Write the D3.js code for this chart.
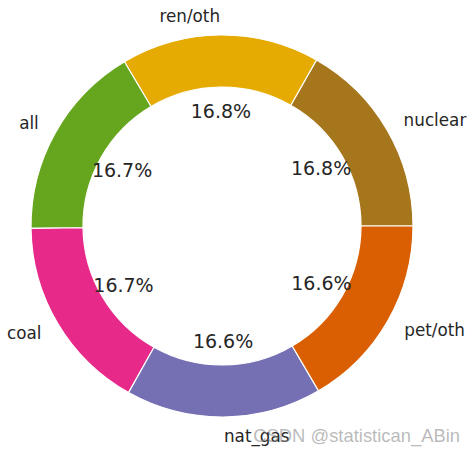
<!DOCTYPE html>
<html>
<head>
<meta charset="utf-8">
<script src="https://cdn.jsdelivr.net/npm/d3@7"></script>
<style>
  body { margin: 0; background: #fff; }
  svg { display: block; }
</style>
</head>
<body>
<div id="chart"></div>
<script>
// sources, in drawing order (counter-clockwise from 3 o'clock)
var labels = ["nuclear", "ren/oth", "all", "coal", "nat_gas", "pet/oth"];
var shares = [16.8, 16.8, 16.7, 16.7, 16.6, 16.6];
var colors = ["#a6761d", "#e6ab02", "#66a61e", "#e7298a", "#7570b3", "#d95f02"];

var width = 475, height = 453;
var cx = 222, cy = 226, outer = 191, inner = 139;

var svg = d3.select("#chart").append("svg")
  .attr("width", width)
  .attr("height", height);

var g = svg.append("g").attr("transform", "translate(" + cx + "," + cy + ")");

var total = d3.sum(shares);
// matplotlib style: start at 3 o'clock, go counter-clockwise
var pie = d3.pie().sort(null)
  .startAngle(Math.PI / 2)
  .endAngle(Math.PI / 2 - 2 * Math.PI)
  .value(function(d) { return d; });

var arcs = pie(shares);
var arc = d3.arc().innerRadius(inner).outerRadius(outer);

g.selectAll("path")
  .data(arcs)
  .enter().append("path")
  .attr("d", arc)
  .attr("fill", function(d, i) { return colors[i]; })
  .attr("stroke", "#fff")
  .attr("stroke-width", 1.2);

function mid(d) { return (d.startAngle + d.endAngle) / 2; }

// category labels at 1.1 * radius
g.selectAll("text.lab")
  .data(arcs)
  .enter().append("text")
  .attr("class", "lab")
  .attr("x", function(d) { return Math.sin(mid(d)) * outer * 1.1; })
  .attr("y", function(d) { return -Math.cos(mid(d)) * outer * 1.1; })
  .attr("text-anchor", function(d) { return Math.sin(mid(d)) > 0 ? "start" : "end"; })
  .attr("dominant-baseline", "central")
  .style("font-family", "DejaVu Sans")
  .style("font-size", "16.8px")
  .style("fill", "#262626")
  .text(function(d, i) { return labels[i]; });

// percentages at 0.6 * radius
g.selectAll("text.pct")
  .data(arcs)
  .enter().append("text")
  .attr("class", "pct")
  .attr("x", function(d) { return Math.sin(mid(d)) * outer * 0.6; })
  .attr("y", function(d) { return -Math.cos(mid(d)) * outer * 0.6; })
  .attr("text-anchor", "middle")
  .attr("dominant-baseline", "central")
  .style("font-family", "DejaVu Sans")
  .style("font-size", "19px")
  .style("fill", "#262626")
  .text(function(d) { return (d.value / total * 100).toFixed(1) + "%"; });

// watermark
svg.append("text")
  .attr("x", 460)
  .attr("y", 442)
  .attr("text-anchor", "end")
  .style("font-family", "Liberation Sans")
  .style("font-size", "18.4px")
  .style("fill", "rgba(140,140,140,0.6)")
  .text("CSDN @statistican_ABin");
</script>
</body>
</html>
